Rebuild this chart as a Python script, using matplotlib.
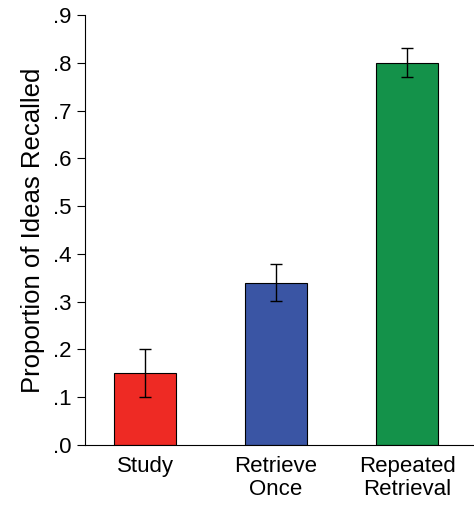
import matplotlib
matplotlib.use("Agg")
import matplotlib.pyplot as plt

categories = ["Study", "Retrieve\nOnce", "Repeated\nRetrieval"]
values = [0.15, 0.34, 0.80]
errors = [0.05, 0.038, 0.03]
colors = ["#ee2a24", "#3a55a4", "#14924a"]
yticks = [0, .1, .2, .3, .4, .5, .6, .7, .8, .9]
ylabels = [".0", ".1", ".2", ".3", ".4", ".5", ".6", ".7", ".8", ".9"]

plt.rcParams['font.family'] = ['Liberation Sans', 'DejaVu Sans']
fig = plt.figure(figsize=(4.74, 5.18), dpi=100)
ax = fig.add_axes([85/474, 1-445/518, 389/474, 430/518])
x = list(range(len(categories)))
ax.bar(x, values, width=0.47, color=colors, edgecolor="black", linewidth=0.8,
       yerr=errors, capsize=4, error_kw=dict(elinewidth=1, capthick=1, ecolor="black"))
ax.set_xlim(-0.458, 2.51)
ax.set_ylim(0, 0.9)
ax.set_yticks(yticks)
ax.set_yticklabels(ylabels, fontsize=16)
ax.set_xticks(x)
ax.set_xticklabels(categories, fontsize=16, linespacing=1.1)
ax.tick_params(axis='x', length=0, pad=8)
ax.tick_params(axis='y', length=6, direction='out')
for s in ["top", "right"]:
    ax.spines[s].set_visible(False)
ax.set_ylabel("Proportion of Ideas Recalled", fontsize=18.5, labelpad=6)
fig.savefig("out.png", dpi=100)
